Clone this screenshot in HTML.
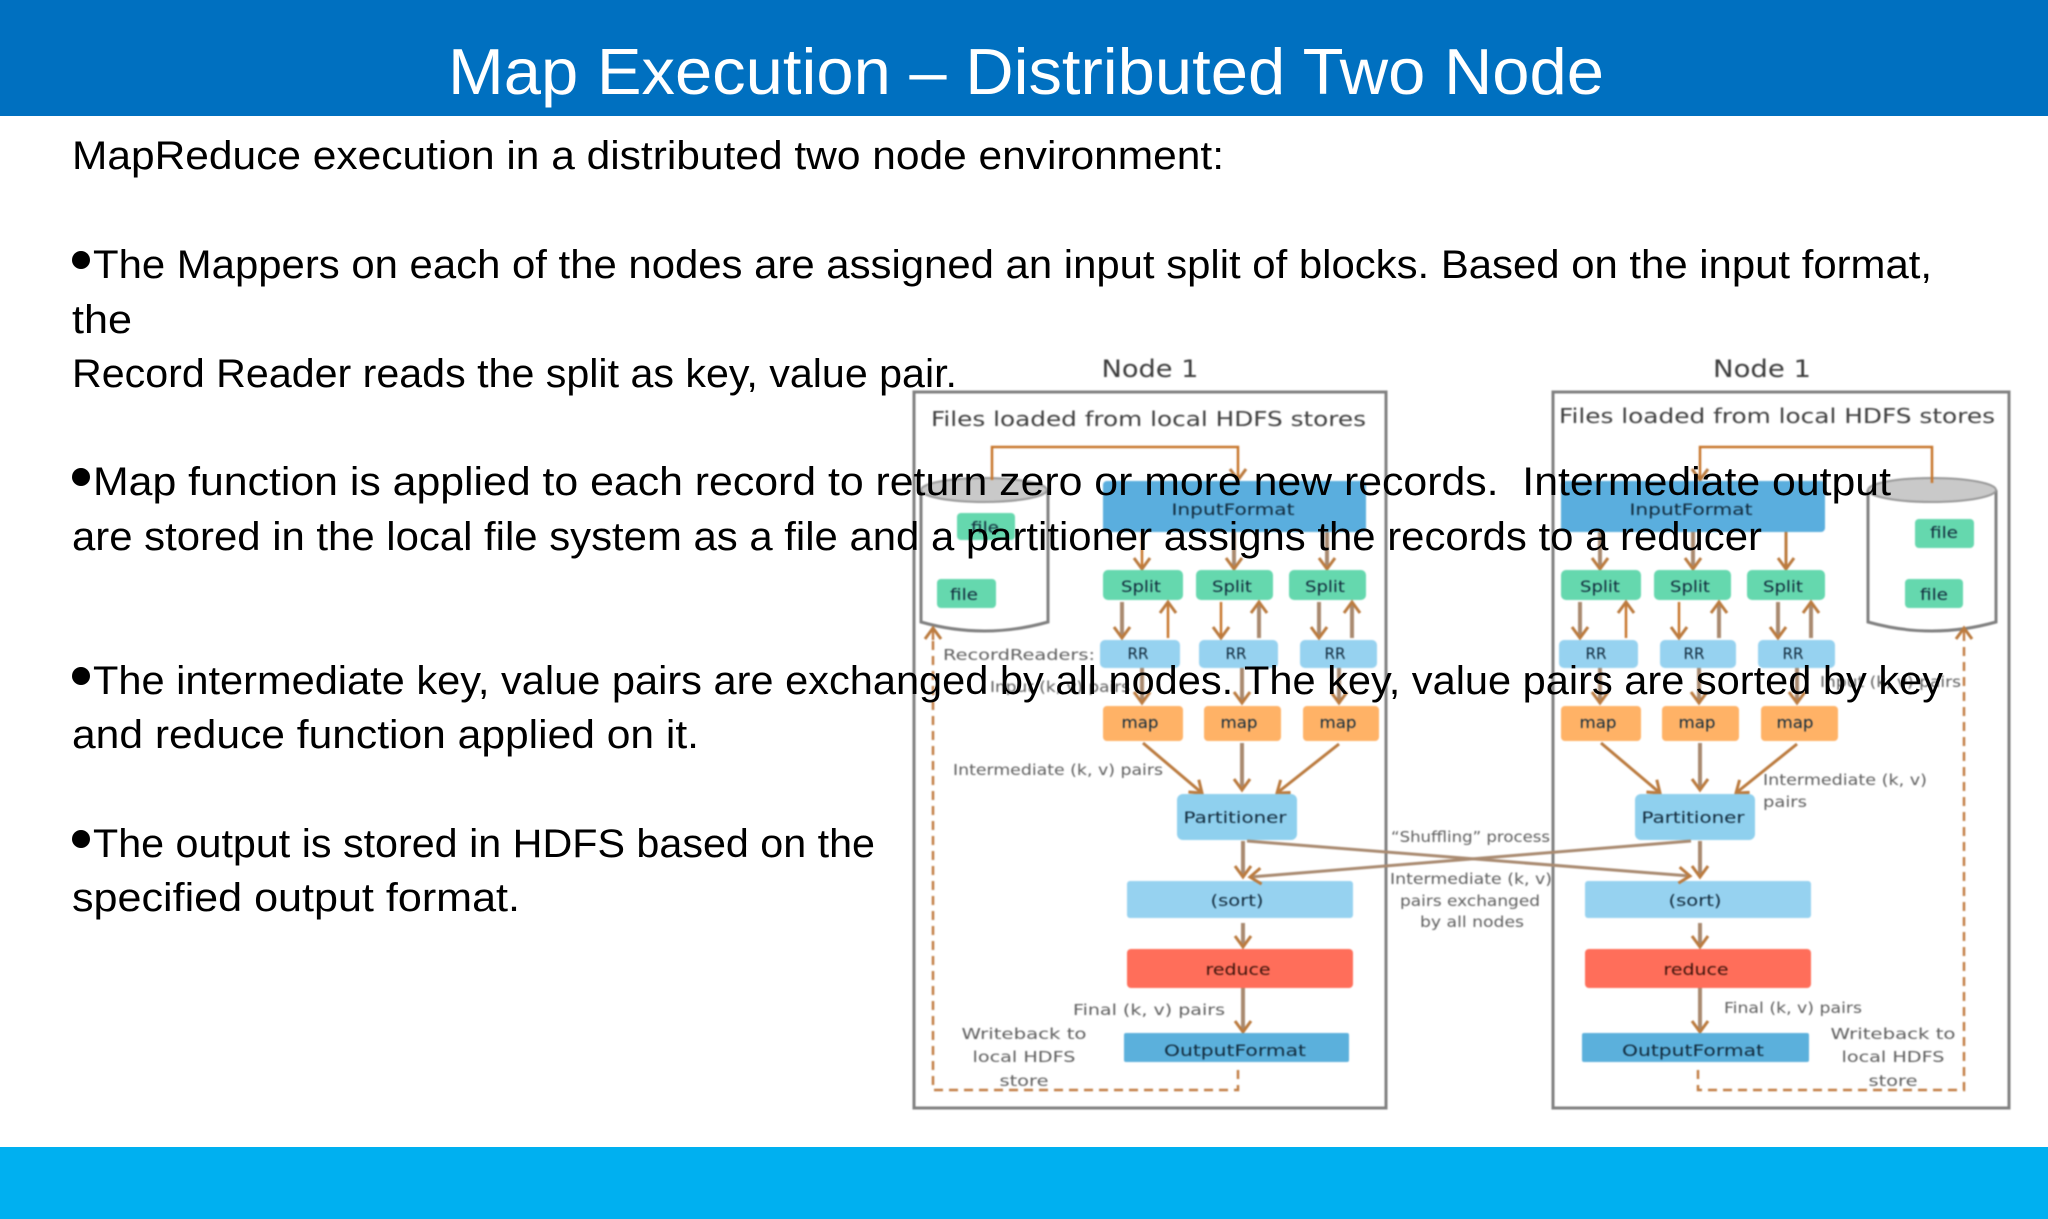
<!DOCTYPE html>
<html><head><meta charset="utf-8"><title>Map Execution – Distributed Two Node</title>
<style>
html,body{margin:0;padding:0;background:#fff;width:2048px;height:1219px;overflow:hidden}
svg{display:block}
.t{font-family:"Liberation Sans",sans-serif;font-size:40px;fill:#000}
.d{font-family:"DejaVu Sans",sans-serif}
.g{font-size:15px;fill:#5f5f5f;text-anchor:start}
.h{font-size:20px;fill:#3f3f3f}
.b{font-size:16px;fill:#10293b;text-anchor:middle;font-weight:400}
.a{stroke:#bb7b3f;stroke-width:3;fill:none;marker-end:url(#m)}
.c{stroke:#a98a70;stroke-width:4;fill:none;marker-end:url(#m)}
.o{stroke:#c7772e;stroke-width:2.5;fill:none;marker-end:url(#m)}
.da{stroke:#c27f45;stroke-width:2.5;fill:none;stroke-dasharray:9 6}
.dg{filter:blur(.8px)}
</style></head><body>
<svg xmlns="http://www.w3.org/2000/svg" width="2048" height="1219" viewBox="0 0 2048 1219">
<defs>
<marker id="m" markerUnits="userSpaceOnUse" markerWidth="22" markerHeight="22" refX="16" refY="11" orient="auto">
<path d="M5 3 L16 11 L5 19" fill="none" stroke="#bb7b3f" stroke-width="3"/>
</marker>
</defs>
<rect width="2048" height="1219" fill="#fff"/>
<rect width="2048" height="116" fill="#0070c0"/>
<rect y="1147" width="2048" height="72" fill="#00b0f0"/>
<text x="448" y="94" textLength="1156" lengthAdjust="spacingAndGlyphs" font-family="Liberation Sans, sans-serif" font-size="65" fill="#fff">Map Execution – Distributed Two Node</text>

<g class="dg">
<!-- LEFT PANEL -->
<rect x="914" y="392" width="472" height="716" fill="#fff" stroke="#808080" stroke-width="3"/>
<text class="d" x="1150" y="377" font-size="24" fill="#3c3c3c" text-anchor="middle" textLength="97" lengthAdjust="spacingAndGlyphs">Node 1</text>
<text class="d h" x="931" y="426" textLength="435" lengthAdjust="spacingAndGlyphs">Files loaded from local HDFS stores</text>
<path d="M921 490V622Q984 640 1048 622V490" fill="#fff" stroke="#808080" stroke-width="3"/>
<ellipse cx="984" cy="490" rx="63" ry="12" fill="#c9c9c9" stroke="#999" stroke-width="2"/>
<path class="o" d="M992 480V447H1238V480"/>
<rect x="957" y="513" width="58" height="27" rx="4" fill="#65d8ae"/>
<rect x="937" y="579" width="59" height="29" rx="4" fill="#65d8ae"/>
<text class="d b" x="985" y="533" textLength="28" lengthAdjust="spacingAndGlyphs">file</text>
<text class="d b" x="964" y="600" textLength="28" lengthAdjust="spacingAndGlyphs">file</text>
<rect x="1103" y="481" width="263" height="51" rx="4" fill="#5aaede"/>
<text class="d b" x="1233" y="515" textLength="123" lengthAdjust="spacingAndGlyphs">InputFormat</text>
<path class="o" d="M1142 532V569"/><path class="c" d="M1234 532V569"/><path class="c" d="M1327 532V569"/>
<rect x="1103" y="570" width="80" height="30" rx="5" fill="#65d8ae"/>
<rect x="1196" y="570" width="77" height="30" rx="5" fill="#65d8ae"/>
<rect x="1289" y="570" width="77" height="30" rx="5" fill="#65d8ae"/>
<text class="d b" x="1141" y="592" textLength="40" lengthAdjust="spacingAndGlyphs">Split</text>
<text class="d b" x="1232" y="592" textLength="40" lengthAdjust="spacingAndGlyphs">Split</text>
<text class="d b" x="1325" y="592" textLength="40" lengthAdjust="spacingAndGlyphs">Split</text>
<path class="c" d="M1122 602V638"/><path class="o" d="M1221 602V638"/><path class="c" d="M1319 602V638"/>
<path class="o" d="M1168 638V602"/><path class="c" d="M1259 638V602"/><path class="c" d="M1352 638V602"/>
<rect x="1100" y="640" width="80" height="28" rx="5" fill="#96d2f0"/>
<rect x="1199" y="640" width="79" height="28" rx="5" fill="#96d2f0"/>
<rect x="1300" y="640" width="77" height="28" rx="5" fill="#96d2f0"/>
<text class="d b" x="1138" y="659" textLength="21" lengthAdjust="spacingAndGlyphs">RR</text>
<text class="d b" x="1236" y="659" textLength="21" lengthAdjust="spacingAndGlyphs">RR</text>
<text class="d b" x="1335" y="659" textLength="21" lengthAdjust="spacingAndGlyphs">RR</text>
<text class="d g" x="943" y="660" textLength="152" lengthAdjust="spacingAndGlyphs" font-size="16">RecordReaders:</text>
<text class="d g" x="990" y="692" textLength="140" lengthAdjust="spacingAndGlyphs">Input (k, v) pairs</text>
<path class="c" d="M1142 668V703"/><path class="c" d="M1242 668V703"/><path class="c" d="M1339 668V703"/>
<rect x="1103" y="706" width="80" height="35" rx="4" fill="#ffb266"/>
<rect x="1204" y="706" width="77" height="35" rx="4" fill="#ffb266"/>
<rect x="1303" y="706" width="76" height="35" rx="4" fill="#ffb266"/>
<text class="d b" x="1140" y="728" textLength="37" lengthAdjust="spacingAndGlyphs">map</text>
<text class="d b" x="1239" y="728" textLength="37" lengthAdjust="spacingAndGlyphs">map</text>
<text class="d b" x="1338" y="728" textLength="37" lengthAdjust="spacingAndGlyphs">map</text>
<path class="a" d="M1143 743L1202 793"/><path class="c" d="M1242 743V790"/><path class="a" d="M1339 744L1277 793"/>
<text class="d g" x="953" y="775" textLength="210" lengthAdjust="spacingAndGlyphs">Intermediate (k, v) pairs</text>
<rect x="1177" y="794" width="120" height="46" rx="6" fill="#8fd0ee"/>
<text class="d b" x="1235" y="823" font-size="17" textLength="103" lengthAdjust="spacingAndGlyphs">Partitioner</text>
<path class="c" d="M1243 841V877"/>
<rect x="1127" y="881" width="226" height="37" rx="3" fill="#96d2f0"/>
<text class="d b" x="1237" y="906" textLength="53" lengthAdjust="spacingAndGlyphs">(sort)</text>
<path class="c" d="M1243 923V947"/>
<rect x="1127" y="949" width="226" height="39" rx="4" fill="#ff6e5a"/>
<text class="d b" x="1238" y="975" textLength="65" lengthAdjust="spacingAndGlyphs" style="fill:#3a120a">reduce</text>
<path class="c" d="M1243 988V1032"/>
<text class="d g" x="1073" y="1015" textLength="152" lengthAdjust="spacingAndGlyphs">Final (k, v) pairs</text>
<rect x="1124" y="1033" width="225" height="29" rx="2" fill="#5bb0dc"/>
<text class="d b" x="1235" y="1056" textLength="142" lengthAdjust="spacingAndGlyphs">OutputFormat</text>
<text class="d g" x="1024" y="1039" style="text-anchor:middle" font-size="16" textLength="125" lengthAdjust="spacingAndGlyphs">Writeback to</text>
<text class="d g" x="1024" y="1062" style="text-anchor:middle" font-size="16" textLength="103" lengthAdjust="spacingAndGlyphs">local HDFS</text>
<text class="d g" x="1024" y="1086" style="text-anchor:middle" font-size="16" textLength="49" lengthAdjust="spacingAndGlyphs">store</text>
<path class="da" d="M1238 1070V1090H933V640"/>
<path d="M933 640V628" stroke="#c27f45" stroke-width="2.5" marker-end="url(#m)"/>

<!-- RIGHT PANEL -->
<rect x="1553" y="392" width="456" height="716" fill="#fff" stroke="#808080" stroke-width="3"/>
<text class="d" x="1762" y="377" font-size="24" fill="#3c3c3c" text-anchor="middle" textLength="98" lengthAdjust="spacingAndGlyphs">Node 1</text>
<text class="d h" x="1559" y="423" textLength="436" lengthAdjust="spacingAndGlyphs">Files loaded from local HDFS stores</text>
<path d="M1868 490V622Q1932 640 1996 622V490" fill="#fff" stroke="#808080" stroke-width="3"/>
<ellipse cx="1932" cy="490" rx="64" ry="12" fill="#c9c9c9" stroke="#999" stroke-width="2"/>
<path class="o" d="M1932 483V447H1700V480"/>
<rect x="1915" y="519" width="59" height="29" rx="4" fill="#65d8ae"/>
<rect x="1905" y="579" width="58" height="29" rx="4" fill="#65d8ae"/>
<text class="d b" x="1944" y="538" textLength="28" lengthAdjust="spacingAndGlyphs">file</text>
<text class="d b" x="1934" y="600" textLength="28" lengthAdjust="spacingAndGlyphs">file</text>
<rect x="1561" y="481" width="264" height="51" rx="4" fill="#5aaede"/>
<text class="d b" x="1691" y="515" textLength="123" lengthAdjust="spacingAndGlyphs">InputFormat</text>
<path class="c" d="M1600 532V569"/><path class="c" d="M1693 532V569"/><path class="a" d="M1786 532V569"/>
<rect x="1561" y="570" width="80" height="30" rx="5" fill="#65d8ae"/>
<rect x="1654" y="570" width="77" height="30" rx="5" fill="#65d8ae"/>
<rect x="1747" y="570" width="78" height="30" rx="5" fill="#65d8ae"/>
<text class="d b" x="1600" y="592" textLength="40" lengthAdjust="spacingAndGlyphs">Split</text>
<text class="d b" x="1690" y="592" textLength="40" lengthAdjust="spacingAndGlyphs">Split</text>
<text class="d b" x="1783" y="592" textLength="40" lengthAdjust="spacingAndGlyphs">Split</text>
<path class="c" d="M1580 602V638"/><path class="o" d="M1679 602V638"/><path class="c" d="M1778 602V638"/>
<path class="o" d="M1626 638V602"/><path class="c" d="M1719 638V602"/><path class="c" d="M1811 638V602"/>
<rect x="1559" y="640" width="79" height="28" rx="5" fill="#96d2f0"/>
<rect x="1660" y="640" width="76" height="28" rx="5" fill="#96d2f0"/>
<rect x="1758" y="640" width="77" height="28" rx="5" fill="#96d2f0"/>
<text class="d b" x="1596" y="659" textLength="21" lengthAdjust="spacingAndGlyphs">RR</text>
<text class="d b" x="1694" y="659" textLength="21" lengthAdjust="spacingAndGlyphs">RR</text>
<text class="d b" x="1793" y="659" textLength="21" lengthAdjust="spacingAndGlyphs">RR</text>
<text class="d g" x="1820" y="687" textLength="141" lengthAdjust="spacingAndGlyphs">Input (k, v) pairs</text>
<path class="c" d="M1600 668V703"/><path class="c" d="M1699 668V703"/><path class="c" d="M1797 668V703"/>
<rect x="1561" y="706" width="80" height="35" rx="4" fill="#ffb266"/>
<rect x="1662" y="706" width="77" height="35" rx="4" fill="#ffb266"/>
<rect x="1761" y="706" width="77" height="35" rx="4" fill="#ffb266"/>
<text class="d b" x="1598" y="728" textLength="37" lengthAdjust="spacingAndGlyphs">map</text>
<text class="d b" x="1697" y="728" textLength="37" lengthAdjust="spacingAndGlyphs">map</text>
<text class="d b" x="1795" y="728" textLength="37" lengthAdjust="spacingAndGlyphs">map</text>
<path class="a" d="M1601 743L1660 793"/><path class="c" d="M1700 743V790"/><path class="a" d="M1797 744L1736 793"/>
<text class="d g" x="1763" y="785" textLength="164" lengthAdjust="spacingAndGlyphs">Intermediate (k, v)</text>
<text class="d g" x="1763" y="807" textLength="44" lengthAdjust="spacingAndGlyphs">pairs</text>
<rect x="1635" y="794" width="120" height="46" rx="6" fill="#8fd0ee"/>
<text class="d b" x="1693" y="823" font-size="17" textLength="103" lengthAdjust="spacingAndGlyphs">Partitioner</text>
<path class="c" d="M1700 841V877"/>
<rect x="1585" y="881" width="226" height="37" rx="3" fill="#96d2f0"/>
<text class="d b" x="1695" y="906" textLength="53" lengthAdjust="spacingAndGlyphs">(sort)</text>
<path class="c" d="M1700 923V947"/>
<rect x="1585" y="949" width="226" height="39" rx="4" fill="#ff6e5a"/>
<text class="d b" x="1696" y="975" textLength="65" lengthAdjust="spacingAndGlyphs" style="fill:#3a120a">reduce</text>
<path class="c" d="M1700 988V1032"/>
<text class="d g" x="1724" y="1013" textLength="138" lengthAdjust="spacingAndGlyphs">Final (k, v) pairs</text>
<rect x="1582" y="1033" width="227" height="29" rx="2" fill="#5bb0dc"/>
<text class="d b" x="1693" y="1056" textLength="142" lengthAdjust="spacingAndGlyphs">OutputFormat</text>
<text class="d g" x="1893" y="1039" style="text-anchor:middle" font-size="16" textLength="125" lengthAdjust="spacingAndGlyphs">Writeback to</text>
<text class="d g" x="1893" y="1062" style="text-anchor:middle" font-size="16" textLength="103" lengthAdjust="spacingAndGlyphs">local HDFS</text>
<text class="d g" x="1893" y="1086" style="text-anchor:middle" font-size="16" textLength="49" lengthAdjust="spacingAndGlyphs">store</text>
<path class="da" d="M1698 1070V1090H1964V640"/>
<path d="M1964 640V628" stroke="#c27f45" stroke-width="2.5" marker-end="url(#m)"/>

<!-- SHUFFLE -->
<path class="c" style="stroke-width:3" d="M1247 841L1690 876"/>
<path class="c" style="stroke-width:3" d="M1691 841L1250 877"/>
<text class="d g" x="1391" y="842" textLength="159" lengthAdjust="spacingAndGlyphs">“Shuffling” process</text>
<text class="d g" x="1390" y="884" textLength="162" lengthAdjust="spacingAndGlyphs">Intermediate (k, v)</text>
<text class="d g" x="1400" y="906" textLength="140" lengthAdjust="spacingAndGlyphs">pairs exchanged</text>
<text class="d g" x="1420" y="927" textLength="104" lengthAdjust="spacingAndGlyphs">by all nodes</text>
</g>

<!-- BODY TEXT -->
<g>
<text class="t" x="72" y="169" textLength="1152" lengthAdjust="spacingAndGlyphs">MapReduce execution in a distributed two node environment:</text>
<circle cx="81" cy="260" r="9" fill="#000"/>
<text class="t" x="93" y="278" textLength="1839" lengthAdjust="spacingAndGlyphs">The Mappers on each of the nodes are assigned an input split of blocks. Based on the input format,</text>
<text class="t" x="72" y="333" textLength="60" lengthAdjust="spacingAndGlyphs">the</text>
<text class="t" x="72" y="387" textLength="885" lengthAdjust="spacingAndGlyphs">Record Reader reads the split as key, value pair.</text>
<circle cx="81" cy="477" r="9" fill="#000"/>
<text class="t" x="93" y="495" textLength="1798" lengthAdjust="spacingAndGlyphs" xml:space="preserve">Map function is applied to each record to return zero or more new records.  Intermediate output</text>
<text class="t" x="72" y="550" textLength="1690" lengthAdjust="spacingAndGlyphs">are stored in the local file system as a file and a partitioner assigns the records to a reducer</text>
<circle cx="81" cy="676" r="9" fill="#000"/>
<text class="t" x="93" y="694" textLength="1850" lengthAdjust="spacingAndGlyphs">The intermediate key, value pairs are exchanged by all nodes. The key, value pairs are sorted by key</text>
<text class="t" x="72" y="748" textLength="627" lengthAdjust="spacingAndGlyphs">and reduce function applied on it.</text>
<circle cx="81" cy="839" r="9" fill="#000"/>
<text class="t" x="93" y="857" textLength="782" lengthAdjust="spacingAndGlyphs">The output is stored in HDFS based on the</text>
<text class="t" x="72" y="911" textLength="448" lengthAdjust="spacingAndGlyphs">specified output format.</text>
</g>
</svg>
</body></html>
